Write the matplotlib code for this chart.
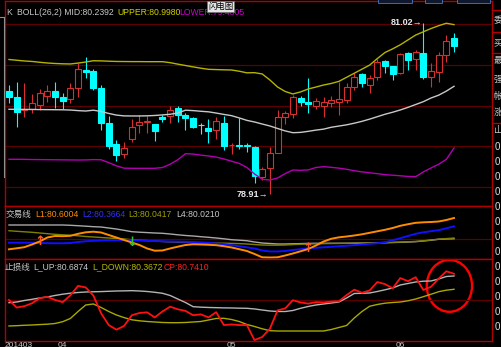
import numpy as np
import matplotlib.pyplot as plt
from matplotlib.patches import Ellipse, Rectangle
from matplotlib.lines import Line2D
import matplotlib.transforms as mtransforms

plt.rcParams['font.family'] = ['Liberation Sans', 'Noto Sans CJK SC', 'DejaVu Sans']

# K线 数据 (开 高 低 收)
opens = [80.185, 80.111, 79.948, 79.960, 80.006, 80.124, 80.178, 80.111, 80.079, 80.215,
         80.440, 80.424, 80.222, 79.791, 79.525, 79.402, 79.594, 79.759, 79.796, 79.775,
         79.865, 79.874, 79.969, 79.886, 79.846, 79.763, 79.722, 79.701, 79.791, 79.513,
         79.511, 79.511, 79.492, 79.127, 79.230, 79.415, 79.858, 79.898, 80.092, 80.046,
         79.997, 80.001, 80.030, 80.046, 80.071, 80.234, 80.387, 80.252, 80.350, 80.551,
         80.483, 80.407, 80.646, 80.572, 80.653, 80.350, 80.419, 80.625, 80.830]
highs = [80.255, 80.296, 80.280, 80.145, 80.202, 80.255, 80.296, 80.153, 80.284, 80.522,
         80.596, 80.449, 80.255, 79.874, 79.578, 79.558, 79.833, 79.886, 79.874, 79.775,
         79.886, 79.997, 79.997, 79.914, 79.865, 79.791, 79.833, 79.858, 79.874, 79.538,
         79.846, 79.538, 79.505, 79.250, 79.496, 79.948, 79.939, 80.132, 80.120, 80.338,
         80.092, 80.111, 80.120, 80.296, 80.276, 80.399, 80.407, 80.378, 80.572, 80.563,
         80.489, 80.653, 80.665, 80.686, 81.020, 80.530, 80.665, 80.871, 80.899]
lows = [80.030, 79.742, 79.862, 79.907, 79.948, 80.050, 79.969, 79.960, 80.030, 80.111,
        80.338, 80.194, 79.701, 79.464, 79.320, 79.353, 79.558, 79.661, 79.661, 79.570,
        79.804, 79.784, 79.804, 79.701, 79.722, 79.652, 79.545, 79.587, 79.455, 79.406,
        79.464, 79.434, 79.053, 79.086, 78.910, 79.413, 79.775, 79.846, 79.997, 79.914,
        79.956, 79.865, 79.981, 79.886, 80.030, 80.194, 80.234, 80.161, 80.317, 80.399,
        80.317, 80.391, 80.440, 80.440, 80.326, 80.234, 80.296, 80.542, 80.665]
closes = [80.111, 79.927, 79.960, 80.030, 80.153, 80.185, 80.111, 80.058, 80.222, 80.449,
          80.412, 80.215, 79.791, 79.505, 79.394, 79.484, 79.742, 79.796, 79.812, 79.689,
          79.833, 79.948, 79.886, 79.846, 79.742, 79.763, 79.689, 79.816, 79.505, 79.520,
          79.505, 79.505, 79.141, 79.218, 79.415, 79.858, 79.907, 80.104, 80.050, 80.022,
          80.058, 80.050, 80.071, 80.079, 80.227, 80.358, 80.284, 80.338, 80.542, 80.493,
          80.391, 80.637, 80.563, 80.658, 80.350, 80.428, 80.625, 80.801, 80.741]

# BOLL(26,2)
boll_upper = [80.569, 80.560, 80.551, 80.545, 80.535, 80.526, 80.520, 80.516, 80.514, 80.525,
              80.538, 80.554, 80.552, 80.548, 80.545, 80.544, 80.543, 80.543, 80.542, 80.542,
              80.542, 80.530, 80.512, 80.495, 80.478, 80.462, 80.448, 80.445, 80.442, 80.440,
              80.425, 80.405, 80.407, 80.391, 80.317, 80.231, 80.175, 80.145, 80.170, 80.206,
              80.230, 80.255, 80.274, 80.300, 80.350, 80.400, 80.450, 80.500, 80.580, 80.655,
              80.700, 80.750, 80.810, 80.870, 80.910, 80.950, 80.985, 81.015, 80.9980]
boll_mid = [79.956, 79.956, 79.955, 79.954, 79.953, 79.952, 79.951, 79.950, 79.947, 79.940,
            79.935, 79.945, 79.930, 79.905, 79.885, 79.875, 79.874, 79.874, 79.876, 79.880,
            79.887, 79.895, 79.910, 79.945, 79.940, 79.932, 79.925, 79.910, 79.893, 79.878,
            79.850, 79.820, 79.800, 79.775, 79.751, 79.720, 79.690, 79.668, 79.672, 79.685,
            79.700, 79.712, 79.735, 79.750, 79.765, 79.785, 79.808, 79.835, 79.865, 79.895,
            79.920, 79.948, 79.980, 80.015, 80.050, 80.095, 80.130, 80.180, 80.2392]
boll_lower = [79.341, 79.341, 79.340, 79.338, 79.337, 79.336, 79.335, 79.334, 79.333, 79.332,
              79.333, 79.337, 79.335, 79.300, 79.260, 79.232, 79.230, 79.230, 79.230, 79.230,
              79.240, 79.280, 79.335, 79.410, 79.405, 79.392, 79.382, 79.368, 79.345, 79.318,
              79.290, 79.240, 79.160, 79.095, 79.086, 79.110, 79.165, 79.209, 79.205, 79.210,
              79.240, 79.250, 79.242, 79.232, 79.218, 79.200, 79.186, 79.175, 79.164, 79.152,
              79.145, 79.138, 79.130, 79.127, 79.185, 79.234, 79.280, 79.340, 79.4805]

# 交易线
l1 = [79.726, 79.754, 79.785, 79.860, 79.944, 80.056, 80.098, 80.092, 80.103, 80.159,
      80.201, 80.218, 80.196, 80.126, 80.056, 79.986, 79.916, 79.846, 79.749, 79.687,
      79.693, 79.749, 79.799, 79.846, 79.866, 79.860, 79.852, 79.841, 79.813, 79.777,
      79.729, 79.679, 79.595, 79.503, 79.497, 79.503, 79.553, 79.609, 79.670, 79.735,
      79.832, 79.944, 80.020, 80.061, 80.084, 80.112, 80.145, 80.187, 80.229, 80.271,
      80.321, 80.383, 80.427, 80.466, 80.480, 80.489, 80.503, 80.545, 80.6004]
l2 = [79.911, 79.911, 79.911, 79.908, 79.902, 79.897, 79.894, 79.894, 79.902, 79.930,
      79.950, 79.964, 79.969, 79.978, 79.983, 79.986, 79.980, 79.972, 79.964, 79.955,
      79.950, 79.944, 79.941, 79.936, 79.930, 79.919, 79.908, 79.888, 79.869, 79.841,
      79.813, 79.782, 79.749, 79.693, 79.665, 79.665, 79.679, 79.707, 79.729, 79.754,
      79.768, 79.782, 79.796, 79.813, 79.827, 79.841, 79.860, 79.880, 79.897, 79.922,
      79.978, 80.036, 80.098, 80.159, 80.201, 80.232, 80.260, 80.313, 80.3664]
l3 = [80.246, 80.229, 80.215, 80.201, 80.182, 80.162, 80.145, 80.131, 80.120, 80.103,
      80.084, 80.070, 80.056, 80.042, 80.028, 80.014, 79.994, 79.980, 79.969, 79.958,
      79.944, 79.933, 79.925, 79.919, 79.913, 79.908, 79.902, 79.899, 79.897, 79.891,
      79.885, 79.874, 79.860, 79.846, 79.841, 79.841, 79.846, 79.858, 79.866, 79.874,
      79.880, 79.885, 79.888, 79.891, 79.894, 79.897, 79.899, 79.902, 79.908, 79.913,
      79.919, 79.927, 79.936, 79.947, 79.964, 79.986, 80.008, 80.025, 80.0417]
l4 = [80.405, 80.405, 80.405, 80.405, 80.405, 80.405, 80.405, 80.405, 80.397, 80.385,
      80.372, 80.358, 80.349, 80.321, 80.293, 80.257, 80.218, 80.204, 80.193, 80.182,
      80.173, 80.154, 80.131, 80.112, 80.098, 80.078, 80.061, 80.042, 80.020, 79.994,
      79.980, 79.966, 79.930, 79.902, 79.888, 79.874, 79.874, 79.880, 79.885, 79.891,
      79.894, 79.894, 79.894, 79.894, 79.894, 79.897, 79.899, 79.902, 79.908, 79.911,
      79.916, 79.922, 79.930, 79.939, 79.958, 79.980, 80.006, 80.015, 80.0210]
buy_idx = [4, 39]
sell_idx = [16]

# 止损线
l_up = [80.044, 80.061, 80.097, 80.126, 80.158, 80.182, 80.218, 80.249, 80.273, 80.290,
        80.302, 80.307, 80.312, 80.319, 80.326, 80.329, 80.334, 80.326, 80.314, 80.295,
        80.271, 80.218, 80.133, 80.049, 79.948, 79.936, 79.929, 79.924, 79.919, 79.917,
        79.912, 79.909, 79.893, 79.868, 79.844, 79.832, 79.832, 79.856, 79.909, 79.953,
        79.989, 80.013, 80.037, 80.061, 80.158, 80.266, 80.271, 80.278, 80.314, 80.355,
        80.399, 80.471, 80.507, 80.543, 80.562, 80.567, 80.615, 80.676, 80.6874]
l_down = [79.483, 79.490, 79.500, 79.507, 79.517, 79.526, 79.543, 79.586, 79.664, 79.832,
          79.989, 80.013, 79.929, 79.832, 79.748, 79.685, 79.632, 79.608, 79.591, 79.579,
          79.567, 79.562, 79.562, 79.567, 79.579, 79.591, 79.627, 79.664, 79.668, 79.639,
          79.591, 79.519, 79.471, 79.415, 79.370, 79.362, 79.362, 79.362, 79.362, 79.362,
          79.362, 79.362, 79.398, 79.447, 79.495, 79.676, 79.832, 79.958, 80.001, 80.032,
          80.049, 80.061, 80.090, 80.133, 80.189, 80.247, 80.309, 80.346, 80.3672]
cp = closes

date_labels = ["201403", "04", "05", "06"]
date_idx = [0, 7, 29, 51]
price_grid = [79.0, 79.5, 80.0, 80.5, 81.0]

W, H = 501, 347
BORDER = '#b00000'
GRID = '#5c0000'
TXT = '#c8c8c8'

fig = plt.figure(figsize=(W / 100, H / 100), dpi=100, facecolor='black')


def px_axes(x0, y0, x1, y1):
    ax = fig.add_axes([x0 / W, 1 - y1 / H, (x1 - x0) / W, (y1 - y0) / H])
    ax.set_facecolor('black')
    for s in ax.spines.values():
        s.set_color(BORDER)
        s.set_linewidth(1.0)
    ax.tick_params(length=0, labelleft=False, labelbottom=False)
    ax.set_xlim(-0.52, 62.95)
    return ax


def ftext(x, y, s, **kw):
    fig.text(x / W, 1 - y / H, s, va='center', ha='left', **kw)


x = np.arange(len(closes))
o = np.array(opens)
c = np.array(closes)

# ---------- 主图 K线 + BOLL ----------
ax1 = px_axes(5, 1, 492, 206)
ax1.set_ylim(78.766, 81.289)
ax1.set_yticks(price_grid)
ax1.set_xticks([])
ax1.grid(axis='y', color=GRID, lw=0.9)

RED, CYAN, GRAY = '#d83030', '#00ffff', '#c0c0c0'
cols = np.where(c > o, RED, np.where(c < o, CYAN, GRAY))
face = np.where(c > o, 'black', cols)
ax1.vlines(x, lows, highs, colors=cols, lw=0.8, zorder=2)
ax1.bar(x, np.maximum(np.abs(c - o), 0.006), bottom=np.minimum(o, c), width=0.78,
        color=face, edgecolor=cols, linewidth=0.8, zorder=3)

ax1.plot(x, boll_upper, color='#b4b400', lw=1.0, zorder=4)
ax1.plot(x, boll_mid, color='#c8c8c8', lw=1.0, zorder=4)
ax1.plot(x, boll_lower, color='#b000b0', lw=1.0, zorder=4)

imax = int(np.argmax(highs))
imin = int(np.argmin(lows))
ax1.annotate(f"{highs[imax]:.2f}\u2192", xy=(imax, highs[imax]), xytext=(-1, 0),
             textcoords='offset points', ha='right', va='center', color='#e8e8e8',
             fontsize=6.5, fontweight='bold', family=['Liberation Sans', 'DejaVu Sans'])
ax1.annotate(f"{lows[imin]:.2f}\u2192", xy=(imin, lows[imin]), xytext=(-1, 0),
             textcoords='offset points', ha='right', va='center', color='#e8e8e8',
             fontsize=6.5, fontweight='bold', family=['Liberation Sans', 'DejaVu Sans'])

# ---------- 交易线 ----------
ax2 = px_axes(5, 206, 492, 259)
ax2.set_ylim(79.455, 80.936)
ax2.set_yticks([80.0])
ax2.set_xticks([])
ax2.grid(axis='y', color=GRID, lw=0.9)
ax2.plot(x, l4, color='#a8a8a8', lw=1.0)
ax2.plot(x, l3, color='#808000', lw=1.0)
ax2.plot(x, l2, color='#1010ff', lw=1.4)
ax2.plot(x, l1, color='#ff8c00', lw=1.4)
for i in buy_idx:
    ax2.text(i, l1[i], '\u2191', color='#ff5a1e', fontsize=9.5, fontweight='bold',
             ha='center', va='center', family='DejaVu Sans')
for i in sell_idx:
    ax2.text(i, l1[i], '\u2193', color='#30c030', fontsize=9.5, fontweight='bold',
             ha='center', va='center', family='DejaVu Sans')

# ---------- 止损线 ----------
ax3 = px_axes(5, 259, 492, 341)
ax3.set_ylim(79.121, 81.097)
ax3.set_yticks([sum(ax3.get_ylim()) / 2])
ax3.set_xticks([])
ax3.grid(axis='y', color=GRID, lw=0.9)
ax3.plot(x, l_up, color='#b4b4b4', lw=1.0)
ax3.plot(x, l_down, color='#a8a800', lw=1.0)
ax3.plot(x, cp, color='#ff1010', lw=1.3)
ax3.add_patch(Ellipse((x[-1] - 0.6, 80.45), 5.9, 1.25, fill=False,
                      edgecolor='#ff0000', lw=1.7))

trans = mtransforms.blended_transform_factory(ax3.transData, ax3.transAxes)
for lab, i in zip(date_labels, date_idx):
    ax3.text(i - 0.6, -0.015, lab, transform=trans, ha='left', va='top',
             color=TXT, fontsize=6, clip_on=False)

# ---------- 标题 ----------
FS = 6.2
ftext(6, 12.5, "K", color=TXT, fontsize=FS)
ftext(17, 12.5, f"BOLL(26,2) MID:{boll_mid[-1]:.4f}", color=TXT, fontsize=FS)
ftext(117, 12.5, f"UPPER:{boll_upper[-1]:.4f}", color='#d0d000', fontsize=FS)
ftext(179, 12.5, f"LOWER:{boll_lower[-1]:.4f}", color='#d000d0', fontsize=FS)
fig.text(220.5 / W, 1 - 6 / H, "闪电图", ha='center', va='center', fontsize=6,
         color='black', family=['Noto Sans CJK SC'],
         bbox=dict(facecolor='#e4e4e4', edgecolor='#707070', boxstyle='square,pad=0.12', lw=0.6))

ftext(6, 214, "交易线", color=TXT, fontsize=FS)
ftext(35, 214, f"L1:{l1[-1]:.4f}", color='#ff8c00', fontsize=FS)
ftext(82, 214, f"L2:{l2[-1]:.4f}", color='#3030ff', fontsize=FS)
ftext(128, 214, f"L3:{l3[-1]:.4f}", color='#a0a000', fontsize=FS)
ftext(176, 214, f"L4:{l4[-1]:.4f}", color=TXT, fontsize=FS)

ftext(5, 267, "止损线", color=TXT, fontsize=FS)
ftext(33, 267, f"L_UP:{l_up[-1]:.4f}", color=TXT, fontsize=FS)
ftext(92, 267, f"L_DOWN:{l_down[-1]:.4f}", color='#b8b800', fontsize=FS)
ftext(164, 267, f"CP:{cp[-1]:.4f}", color='#ff2020', fontsize=FS)

# ---------- 右侧信息栏 (被截断) ----------
for yy in [10, 32, 53, 123]:
    fig.add_artist(Line2D([492 / W, 1], [1 - yy / H] * 2, color=BORDER, lw=1.0))
for yy, ch in zip([21, 43, 61, 79, 96, 112, 131], ["委", "买", "最", "强", "帐", "涨", "山"]):
    ftext(494, yy, ch, color=TXT, fontsize=6.5)
for k in range(13):
    ftext(494.5, 147 + 15 * k, "0", color='#e0e0e0', fontsize=7)

# 顶部按钮与左侧滚动条
for bx0, bx1 in [(378, 412), (425, 442), (457, 490)]:
    fig.add_artist(Rectangle((bx0 / W, 1 - 3 / H), (bx1 - bx0) / W, 4 / H,
                             transform=fig.transFigure, facecolor='#101830',
                             edgecolor='#4a78c0', lw=0.6))
fig.add_artist(Line2D([3.5 / W] * 2, [1 - 17 / H, 1 - 177 / H], color='#909090', lw=0.8))
fig.add_artist(Line2D([0, 3.5 / W], [1 - 17 / H] * 2, color='#909090', lw=0.8))

fig.savefig('out.png', dpi=100, facecolor='black')
